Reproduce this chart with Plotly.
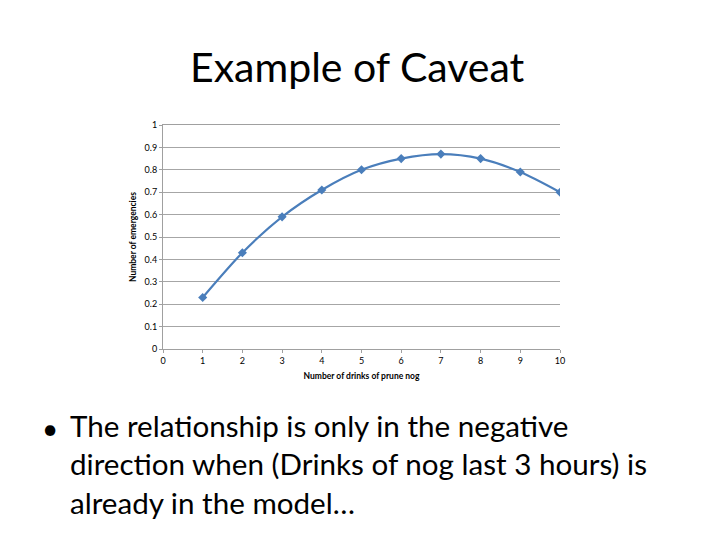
import plotly.graph_objects as go

drinks = [1, 2, 3, 4, 5, 6, 7, 8, 9, 10]
emergencies = [0.23, 0.43, 0.59, 0.71, 0.80, 0.85, 0.87, 0.85, 0.79, 0.70]
x_ticks = list(range(0, 11))
y_ticks = [0, 0.1, 0.2, 0.3, 0.4, 0.5, 0.6, 0.7, 0.8, 0.9, 1]
y_tick_labels = ["0", "0.1", "0.2", "0.3", "0.4", "0.5", "0.6", "0.7", "0.8", "0.9", "1"]

# page has an 8px body margin, so the figure is 8px smaller and positions shift by 8
OFF = 8
W, H = 720 - OFF, 540 - OFF


def px(x):
    return (x - OFF) / W


def py(y):
    return 1 - (y - OFF) / H


fig = go.Figure()
fig.add_trace(go.Scatter(
    x=drinks,
    y=emergencies,
    mode="lines+markers",
    line=dict(color="#4a7ebb", width=2.2, shape="spline", smoothing=0.8),
    marker=dict(symbol="diamond", size=7, color="#4a7ebb"),
    showlegend=False,
))

fig.update_layout(
    width=W, height=H,
    margin=dict(l=0, r=0, t=0, b=0),
    paper_bgcolor="white",
    plot_bgcolor="white",
    font=dict(family="Lato, Liberation Sans", color="#000000"),
    xaxis=dict(
        domain=[px(163), px(560)],
        range=[0, 10],
        tickvals=x_ticks,
        tickfont=dict(size=9),
        showgrid=False,
        zeroline=False,
        showline=True,
        mirror=True,
        linecolor="#a0a0a0",
        ticks="outside",
        ticklen=3,
        tickcolor="#a0a0a0",
        automargin=False,
        title=dict(text="<b>Number of drinks of prune nog</b>", font=dict(size=8.5), standoff=8),
    ),
    yaxis=dict(
        domain=[py(349), py(125)],
        range=[0, 1],
        tickvals=y_ticks,
        ticktext=y_tick_labels,
        tickfont=dict(size=9),
        showgrid=True,
        gridcolor="#a6a6a6",
        gridwidth=1,
        zeroline=False,
        showline=True,
        linecolor="#a0a0a0",
        ticks="outside",
        ticklen=3,
        tickcolor="#a0a0a0",
        automargin=False,
        title=dict(text="<b>Number of emergencies</b>", font=dict(size=8.5), standoff=6),
    ),
)

# slide title
fig.add_annotation(
    text="Example of Caveat",
    xref="paper", yref="paper", x=px(357), y=py(66),
    xanchor="center", yanchor="middle", showarrow=False,
    font=dict(family="Lato, Liberation Sans", size=41, color="#000000"),
)

# bullet text
fig.add_annotation(
    text="•",
    xref="paper", yref="paper", x=px(40), y=py(428),
    xanchor="left", yanchor="middle", showarrow=False,
    font=dict(family="Lato, Liberation Sans", size=28, color="#000000"),
)
fig.add_annotation(
    text="The relationship is only in the negative<br>direction when (Drinks of nog last 3 hours) is<br>already in the model…",
    xref="paper", yref="paper", x=px(68), y=py(406),
    xanchor="left", yanchor="top", align="left", showarrow=False,
    font=dict(family="Lato, Liberation Sans", size=29.6, color="#000000"),
)

fig.write_html("out.html")
